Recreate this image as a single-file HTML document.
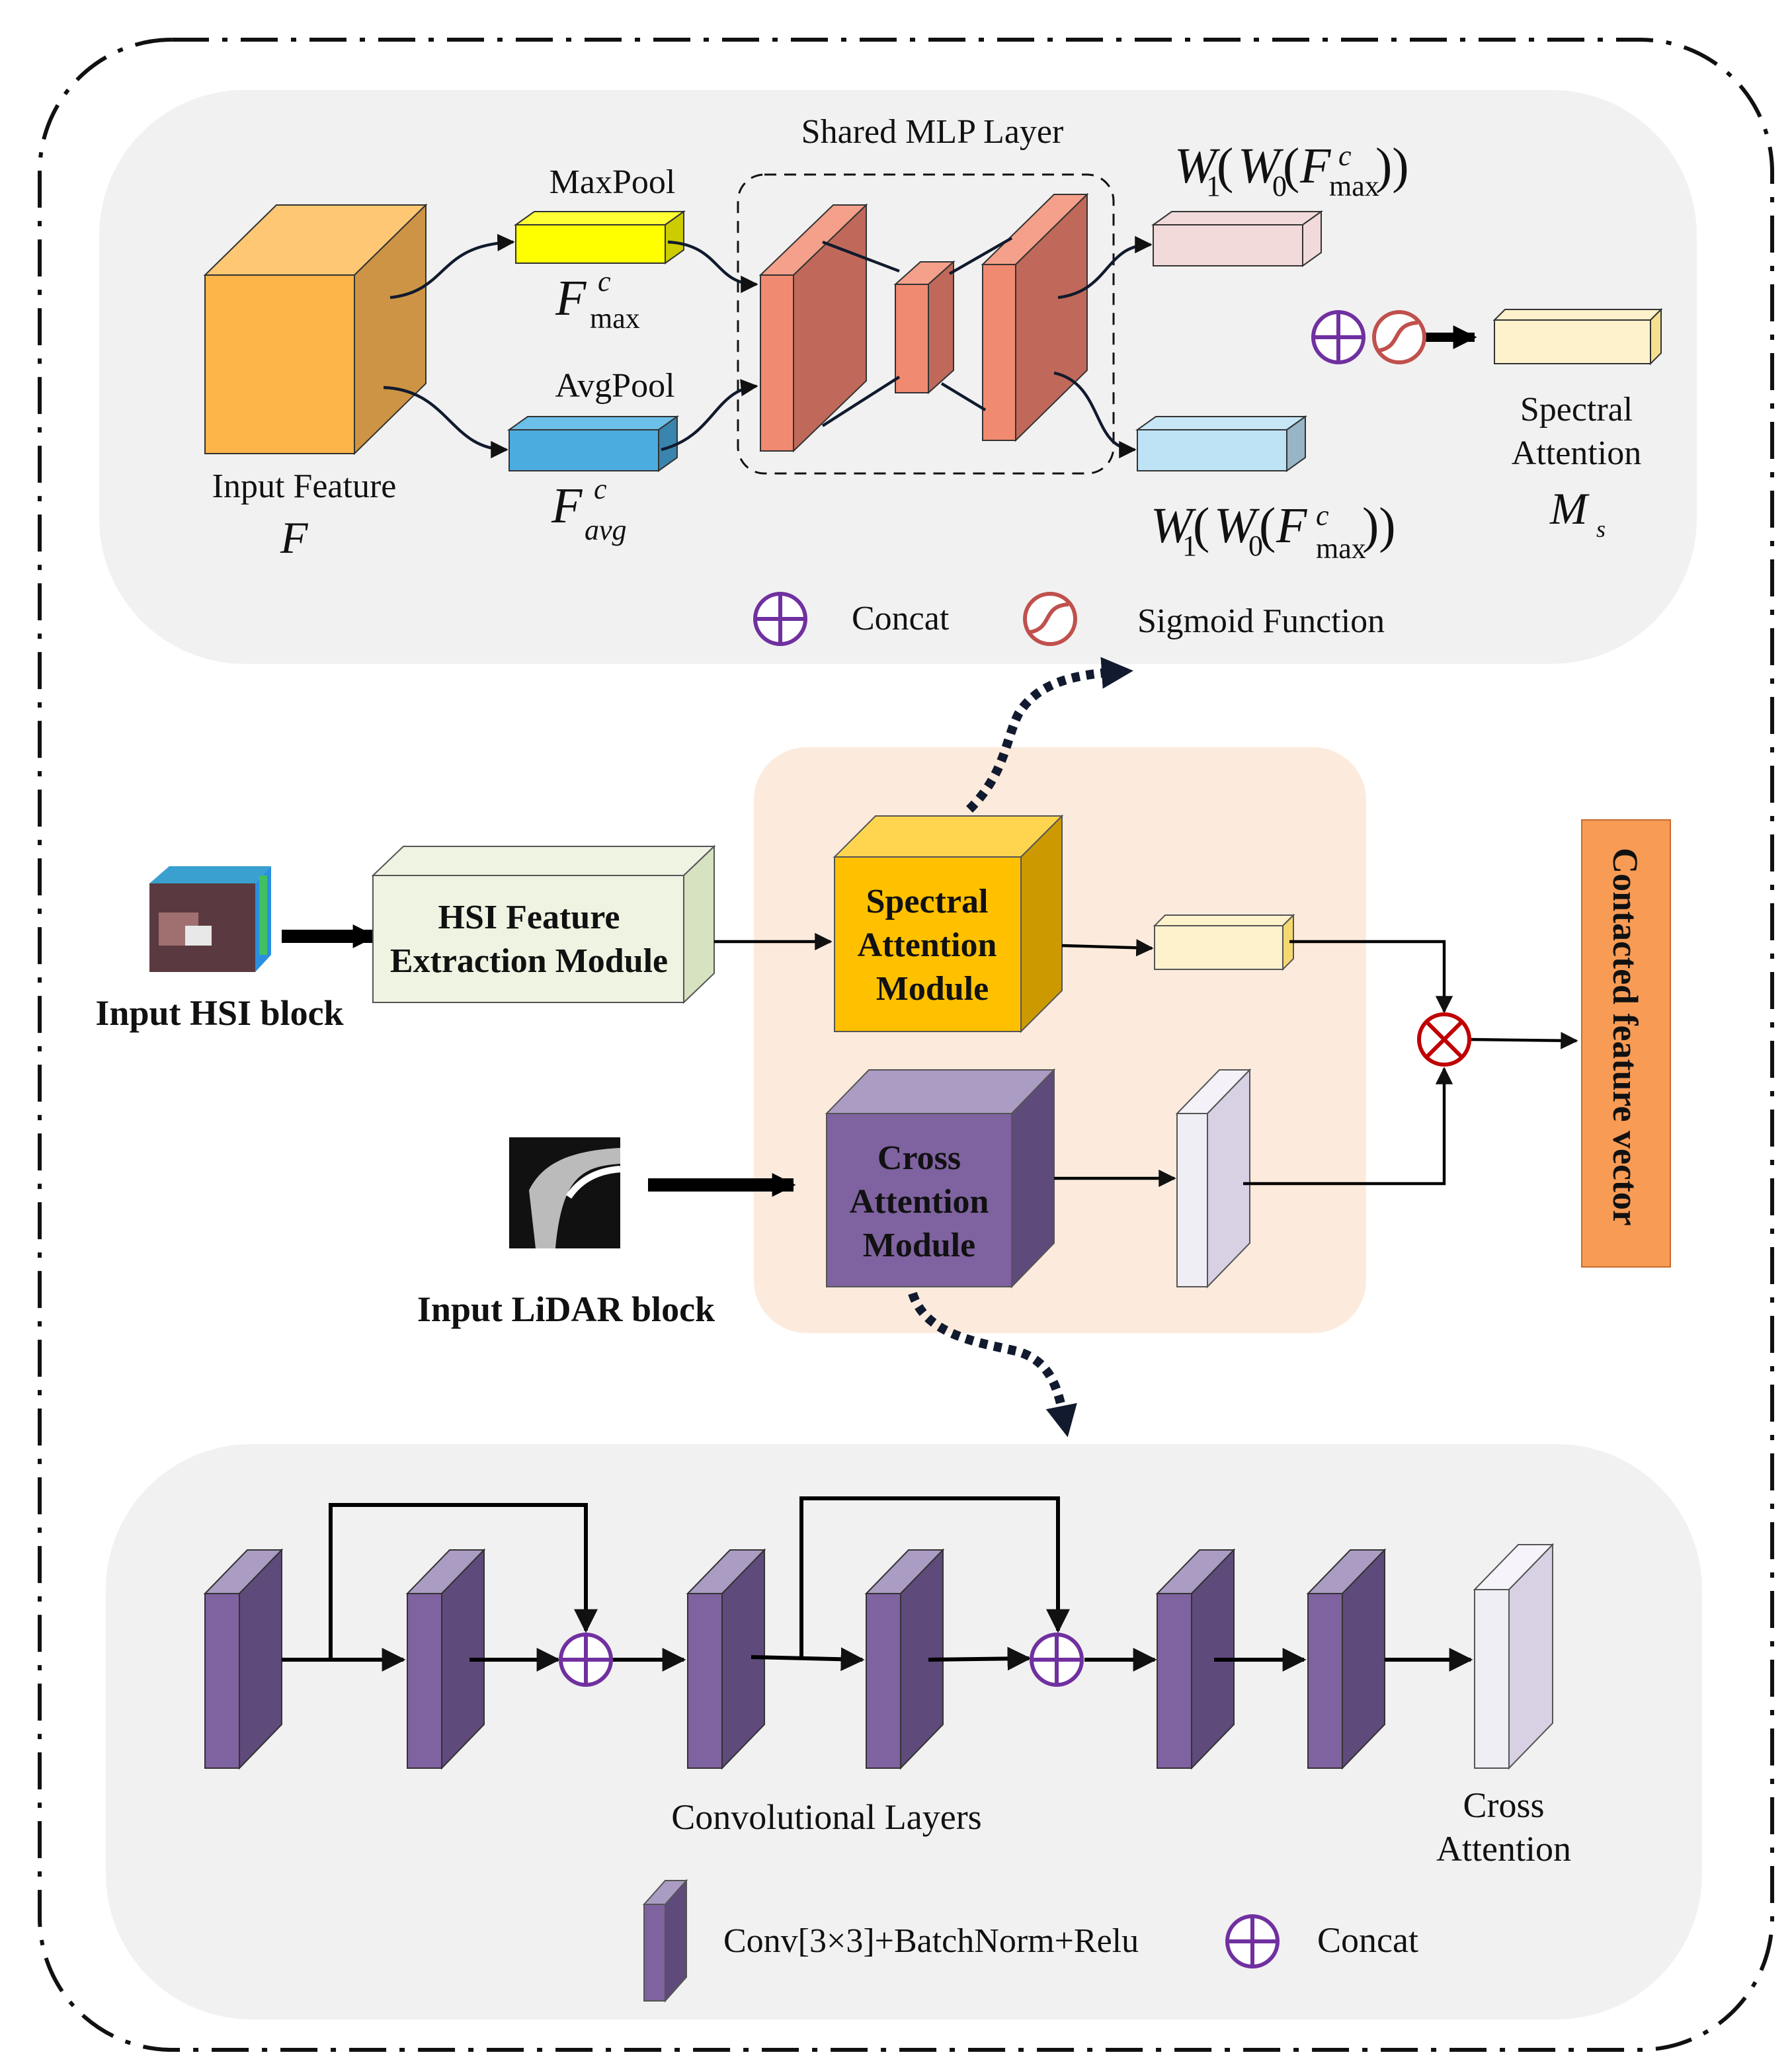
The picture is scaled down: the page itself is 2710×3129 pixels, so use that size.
<!DOCTYPE html>
<html><head><meta charset="utf-8"><style>html,body{margin:0;padding:0;background:#fff}svg{display:block}</style></head>
<body>
<svg xmlns="http://www.w3.org/2000/svg" width="2710" height="3129" viewBox="0 0 1355 1564.5" font-family="Liberation Serif, serif">
<defs>
<marker id="ah" viewBox="0 0 10 10" refX="9" refY="5" markerWidth="6" markerHeight="6" orient="auto"><path d="M0,0 L10,5 L0,10 z" fill="#111"/></marker>
<marker id="ahb" viewBox="0 0 10 10" refX="9" refY="5" markerUnits="userSpaceOnUse" markerWidth="18" markerHeight="20" orient="auto"><path d="M0,0 L10,5 L0,10 z" fill="#000"/></marker>
<marker id="ahd" viewBox="0 0 10 10" refX="5" refY="5" markerUnits="userSpaceOnUse" markerWidth="24" markerHeight="24" orient="auto"><path d="M0,0 L10,5 L0,10 z" fill="#111a2e"/></marker>
<g id="ps" stroke="#333" stroke-width="1">
<rect x="0" y="0" width="26" height="132" fill="#7F62A0"/>
<polygon points="0,0 32,-33 58,-33 26,0" fill="#AB9CC3"/>
<polygon points="26,0 58,-33 58,99 26,132" fill="#5E4A7B"/>
</g>
</defs>
<rect x="0" y="0" width="1355" height="1564.5" fill="#fff"/>
<rect x="30" y="30" width="1310" height="1520" rx="100" fill="none" stroke="#111" stroke-width="3" stroke-dasharray="28,10,4,10"/>

<!-- TOP PANEL -->
<rect x="75" y="68" width="1208" height="434" rx="110" fill="#f1f1f1"/>
<g stroke="#333" stroke-width="1">
<rect x="155" y="208" width="113" height="135" fill="#FDB54A"/>
<polygon points="155,208 209,155 322,155 268,208" fill="#FDC774"/>
<polygon points="268,208 322,155 322,290 268,343" fill="#CC9444"/>
<rect x="390" y="170" width="113" height="29" fill="#ffff00"/>
<polygon points="390,170 404,160 517,160 503,170" fill="#ffff33"/>
<polygon points="503,170 517,160 517,189 503,199" fill="#cccc00"/>
<rect x="385" y="325" width="113" height="31" fill="#4BACE0"/>
<polygon points="385,325 399,315 512,315 498,325" fill="#6cbfe8"/>
<polygon points="498,325 512,315 512,346 498,356" fill="#3a85ad"/>
<rect x="575" y="208" width="25" height="133" fill="#F08A70"/>
<polygon points="575,208 630,155 655,155 600,208" fill="#F4A08A"/>
<polygon points="600,208 655,155 655,288 600,341" fill="#C0695A"/>
<rect x="677" y="215" width="25" height="82" fill="#F08A70"/>
<polygon points="677,215 696,198 721,198 702,215" fill="#F4A08A"/>
<polygon points="702,215 721,198 721,280 702,297" fill="#C0695A"/>
<rect x="743" y="200" width="25" height="133" fill="#F08A70"/>
<polygon points="743,200 797,147 822,147 768,200" fill="#F4A08A"/>
<polygon points="768,200 822,147 822,280 768,333" fill="#C0695A"/>
<rect x="872" y="170" width="113" height="31" fill="#F2DADA"/>
<polygon points="872,170 886,160 999,160 985,170" fill="#F2DADA"/>
<polygon points="985,170 999,160 999,191 985,201" fill="#F2DADA"/>
<rect x="860" y="325" width="113" height="31" fill="#BDE3F5"/>
<polygon points="860,325 874,315 987,315 973,325" fill="#C8E7F6"/>
<polygon points="973,325 987,315 987,346 973,356" fill="#97B5C6"/>
<rect x="1130" y="242" width="118" height="33" fill="#FEF2CC"/>
<polygon points="1130,242 1138,234 1256,234 1248,242" fill="#FEF2CC"/>
<polygon points="1248,242 1256,234 1256,267 1248,275" fill="#F5E090"/>
</g>
<rect x="558" y="132" width="284" height="226" rx="20" fill="none" stroke="#111" stroke-width="1.5" stroke-dasharray="9,6"/>
<g fill="none" stroke="#111a2e" stroke-width="2.2">
<path d="M295,225 C340,220 330,185 388,183" marker-end="url(#ah)"/>
<path d="M290,293 C340,295 340,340 383,340" marker-end="url(#ah)"/>
<path d="M505,183 C545,185 540,215 572,215" marker-end="url(#ah)"/>
<path d="M500,340 C540,330 540,295 572,292" marker-end="url(#ah)"/>
<path d="M800,225 C840,220 835,185 870,185" marker-end="url(#ah)"/>
<path d="M797,282 C835,290 825,340 858,340" marker-end="url(#ah)"/>
<line x1="622" y1="183" x2="680" y2="205"/>
<line x1="622" y1="322" x2="680" y2="285"/>
<line x1="718" y1="207" x2="765" y2="180"/>
<line x1="712" y1="290" x2="745" y2="310"/>
</g>
<line x1="1078" y1="255" x2="1115" y2="255" stroke="#000" stroke-width="7" marker-end="url(#ahb)"/>
<g stroke-width="3" fill="#fff">
<circle cx="1012" cy="255" r="19" stroke="#7030A0"/>
<line x1="993" y1="255" x2="1031" y2="255" stroke="#7030A0"/>
<line x1="1012" y1="236" x2="1012" y2="274" stroke="#7030A0"/>
<circle cx="1058" cy="255" r="19" stroke="#C0504D"/>
<path d="M1043,265 C1060,262 1052,245 1072,244" stroke="#C0504D" fill="none"/>
<circle cx="590" cy="468" r="19" stroke="#7030A0"/>
<line x1="571" y1="468" x2="609" y2="468" stroke="#7030A0"/>
<line x1="590" y1="449" x2="590" y2="487" stroke="#7030A0"/>
<circle cx="794" cy="468" r="19" stroke="#C0504D"/>
<path d="M779,478 C796,475 788,458 808,457" stroke="#C0504D" fill="none"/>
</g>
<g fill="#111" font-size="26">
<text x="705" y="108" text-anchor="middle">Shared MLP Layer</text>
<text x="463" y="146" text-anchor="middle">MaxPool</text>
<text x="465" y="300" text-anchor="middle">AvgPool</text>
<text x="230" y="376" text-anchor="middle">Input Feature</text>
<text x="212" y="418" font-size="34" font-style="italic">F</text>
<text x="420" y="238" font-size="38" font-style="italic">F</text><text x="452" y="220" font-size="22" font-style="italic">c</text><text x="446" y="248" font-size="22">max</text>
<text x="417" y="395" font-size="38" font-style="italic">F</text><text x="449" y="377" font-size="22" font-style="italic">c</text><text x="442" y="408" font-size="22" font-style="italic">avg</text>
<g font-size="38">
<text x="888" y="138" font-style="italic">W</text><text x="912" y="148" font-size="22">1</text><text x="920" y="138">(</text><text x="936" y="138" font-style="italic">W</text><text x="962" y="148" font-size="22">0</text><text x="970" y="138">(</text><text x="983" y="138" font-style="italic">F</text><text x="1012" y="125" font-size="22" font-style="italic">c</text><text x="1005" y="148" font-size="22">max</text><text x="1040" y="138">))</text>
<text x="870" y="410" font-style="italic">W</text><text x="894" y="420" font-size="22">1</text><text x="902" y="410">(</text><text x="918" y="410" font-style="italic">W</text><text x="944" y="420" font-size="22">0</text><text x="952" y="410">(</text><text x="965" y="410" font-style="italic">F</text><text x="995" y="397" font-size="22" font-style="italic">c</text><text x="995" y="422" font-size="22">max</text><text x="1030" y="410">))</text>
</g>
<text x="1192" y="318" text-anchor="middle">Spectral</text>
<text x="1192" y="351" text-anchor="middle">Attention</text>
<text x="1172" y="396" font-size="34" font-style="italic">M</text><text x="1207" y="406" font-size="18" font-style="italic">s</text>
<text x="644" y="476">Concat</text>
<text x="860" y="478">Sigmoid Function</text>
</g>

<!-- MIDDLE -->
<rect x="570" y="565" width="463" height="443" rx="40" fill="#FCEBDD"/>
<g>
<rect x="113" y="668" width="80" height="67" fill="#5a3a40"/>
<polygon points="113,668 128,655 205,655 193,668" fill="#3aa0d0"/>
<polygon points="193,668 205,655 205,722 193,735" fill="#2a8fe0"/>
<rect x="120" y="690" width="30" height="25" fill="#a07070"/>
<rect x="140" y="700" width="20" height="15" fill="#e8e8e8"/>
<rect x="196" y="662" width="6" height="60" fill="#40c060"/>
</g>
<line x1="213" y1="708" x2="283" y2="708" stroke="#000" stroke-width="10" marker-end="url(#ahb)"/>
<rect x="385" y="860" width="84" height="84" fill="#111"/>
<path d="M400,900 C410,880 430,870 469,868 L469,880 C440,882 425,890 420,944 L405,944 Z" fill="#bbb"/>
<path d="M430,905 C440,890 455,885 469,884" stroke="#fff" stroke-width="5" fill="none"/>
<line x1="490" y1="896" x2="600" y2="896" stroke="#000" stroke-width="10" marker-end="url(#ahb)"/>
<g stroke="#555" stroke-width="1">
<rect x="282" y="662" width="235" height="96" fill="#EEF3E2"/>
<polygon points="282,662 305,640 540,640 517,662" fill="#EEF3E2"/>
<polygon points="517,662 540,640 540,736 517,758" fill="#D6E2C0"/>
<rect x="631" y="648" width="141" height="132" fill="#FFC000"/>
<polygon points="631,648 662,617 803,617 772,648" fill="#FFD54F"/>
<polygon points="772,648 803,617 803,749 772,780" fill="#CC9A00"/>
<rect x="625" y="842" width="140" height="131" fill="#7F62A0"/>
<polygon points="625,842 657,809 797,809 765,842" fill="#AB9CC3"/>
<polygon points="765,842 797,809 797,940 765,973" fill="#5E4A7B"/>
<rect x="873" y="700" width="97" height="33" fill="#FEF2CC"/>
<polygon points="873,700 881,692 978,692 970,700" fill="#FEF2CC"/>
<polygon points="970,700 978,692 978,725 970,733" fill="#F5D870"/>
<rect x="890" y="842" width="23" height="131" fill="#EEEEF4"/>
<polygon points="890,842 922,809 945,809 913,842" fill="#F4F2F8"/>
<polygon points="913,842 945,809 945,940 913,973" fill="#D8D0E3"/>
</g>
<rect x="1196" y="620" width="67" height="338" fill="#F79B55" stroke="#c86a30" stroke-width="1"/>
<g fill="none" stroke="#000" stroke-width="2.2">
<line x1="540" y1="712" x2="628" y2="712" marker-end="url(#ah)"/>
<path d="M803,715 L871,717" marker-end="url(#ah)"/>
<path d="M975,712 H1092 V765" marker-end="url(#ah)"/>
<line x1="797" y1="891" x2="888" y2="891" marker-end="url(#ah)"/>
<path d="M940,895 H1092 V808" marker-end="url(#ah)"/>
<line x1="1112" y1="786" x2="1192" y2="787" marker-end="url(#ah)"/>
</g>
<circle cx="1092" cy="786" r="19" fill="#fff" stroke="#C00000" stroke-width="3"/>
<line x1="1079" y1="773" x2="1105" y2="799" stroke="#C00000" stroke-width="3"/>
<line x1="1105" y1="773" x2="1079" y2="799" stroke="#C00000" stroke-width="3"/>
<g fill="#111" font-size="26" font-weight="bold" text-anchor="middle">
<text x="400" y="702">HSI  Feature</text>
<text x="400" y="735">Extraction Module</text>
<text x="701" y="690">Spectral</text>
<text x="701" y="723">Attention</text>
<text x="705" y="756">Module</text>
<text x="695" y="884">Cross</text>
<text x="695" y="917">Attention</text>
<text x="695" y="950">Module</text>
<text x="166" y="775" font-size="27">Input HSI block</text>
<text x="428" y="999" font-size="27">Input LiDAR block</text>
<text transform="translate(1220,784) rotate(90)" font-size="27">Contacted feature vector</text>
</g>

<!-- BOTTOM PANEL -->
<rect x="80" y="1092" width="1207" height="435" rx="110" fill="#f1f1f1"/>
<use href="#ps" x="155" y="1205"/>
<use href="#ps" x="308" y="1205"/>
<use href="#ps" x="520" y="1205"/>
<use href="#ps" x="655" y="1205"/>
<use href="#ps" x="875" y="1205"/>
<use href="#ps" x="989" y="1205"/>
<g stroke="#555" stroke-width="1">
<rect x="1115" y="1202" width="26" height="135" fill="#EEEEF4"/>
<polygon points="1115,1202 1148,1168 1174,1168 1141,1202" fill="#F6F4FA"/>
<polygon points="1141,1202 1174,1168 1174,1303 1141,1337" fill="#D8D0E3"/>
<rect x="487" y="1440" width="16" height="73" fill="#7F62A0"/>
<polygon points="487,1440 503,1422 519,1422 503,1440" fill="#AB9CC3"/>
<polygon points="503,1440 519,1422 519,1495 503,1513" fill="#5E4A7B"/>
</g>
<g fill="none" stroke="#000" stroke-width="3">
<line x1="213" y1="1255" x2="305" y2="1255" marker-end="url(#ah)"/>
<line x1="355" y1="1255" x2="422" y2="1255" marker-end="url(#ah)"/>
<line x1="463" y1="1255" x2="517" y2="1255" marker-end="url(#ah)"/>
<line x1="568" y1="1253" x2="652" y2="1255" marker-end="url(#ah)"/>
<line x1="702" y1="1255" x2="778" y2="1254" marker-end="url(#ah)"/>
<line x1="820" y1="1255" x2="873" y2="1255" marker-end="url(#ah)"/>
<line x1="918" y1="1255" x2="986" y2="1255" marker-end="url(#ah)"/>
<line x1="1047" y1="1255" x2="1112" y2="1255" marker-end="url(#ah)"/>
<path d="M250,1255 V1138 H443 V1233" marker-end="url(#ah)"/>
<path d="M606,1253 V1133 H800 V1233" marker-end="url(#ah)"/>
</g>
<g stroke="#7030A0" stroke-width="3" fill="#fff">
<circle cx="443" cy="1255" r="19"/><line x1="424" y1="1255" x2="462" y2="1255"/><line x1="443" y1="1236" x2="443" y2="1274"/>
<circle cx="799" cy="1255" r="19"/><line x1="780" y1="1255" x2="818" y2="1255"/><line x1="799" y1="1236" x2="799" y2="1274"/>
<circle cx="947" cy="1468" r="19"/><line x1="928" y1="1468" x2="966" y2="1468"/><line x1="947" y1="1449" x2="947" y2="1487"/>
</g>
<g fill="#111" font-size="27">
<text x="625" y="1383" text-anchor="middle">Convolutional Layers</text>
<text x="1137" y="1374" text-anchor="middle">Cross</text>
<text x="1137" y="1407" text-anchor="middle">Attention</text>
<text x="547" y="1476" font-size="26">Conv[3×3]+BatchNorm+Relu</text>
<text x="996" y="1476">Concat</text>
</g>

<!-- dotted connectors (on top) -->
<path d="M733,612 C760,585 760,560 770,540 C785,515 815,510 845,508" fill="none" stroke="#111a2e" stroke-width="7" stroke-dasharray="6,5" marker-end="url(#ahd)"/>
<path d="M690,978 C700,1010 740,1015 770,1022 C795,1030 800,1050 805,1075" fill="none" stroke="#111a2e" stroke-width="7" stroke-dasharray="6,5" marker-end="url(#ahd)"/>
</svg>
</body></html>
